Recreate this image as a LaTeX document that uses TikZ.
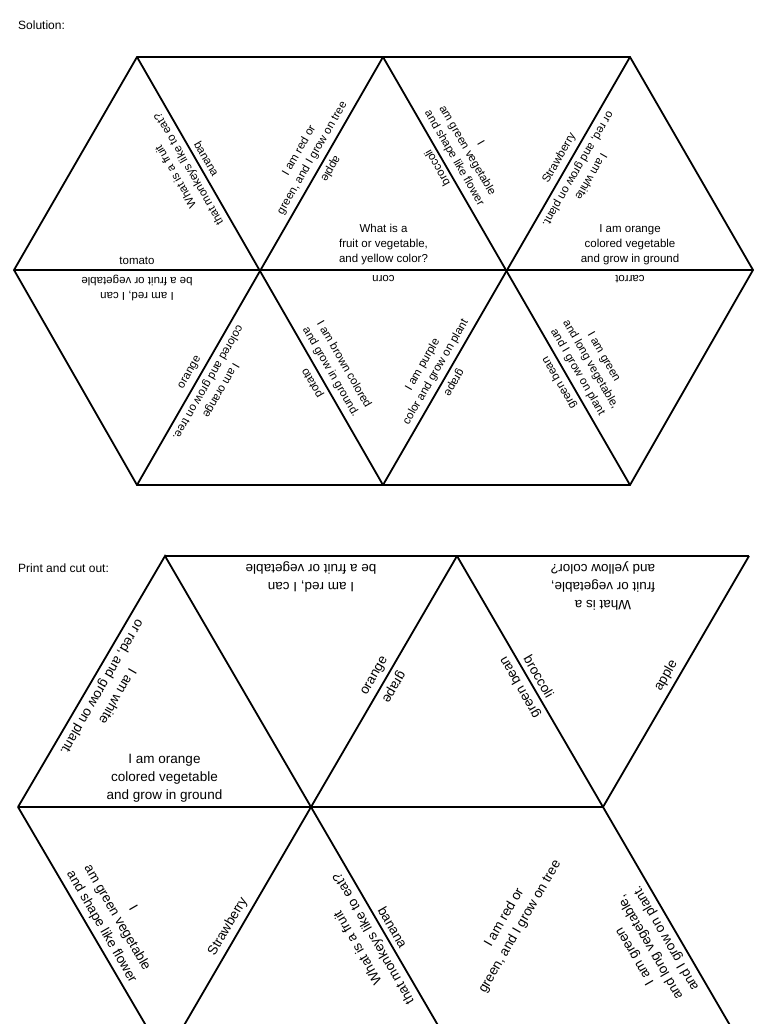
\documentclass[tikz,border=0pt]{standalone}
\usepackage{fontspec}
\setmainfont{Liberation Sans}
\usetikzlibrary{calc}
\tikzset{
  edgeline/.style={line width=1.8pt, line join=miter},
  lbl/.style={align=center, anchor=south, inner sep=1pt, font=\fontsize{11.5}{15}\selectfont},
  lblbig/.style={align=center, anchor=south, inner sep=1pt, font=\fontsize{13.5}{18}\selectfont},
  title/.style={anchor=west, inner sep=0pt, font=\fontsize{12}{14}\selectfont}
}
\newcommand{\tlab}[7]{\node[#7, rotate=#4] (#1) at ($($(#2)!0.5!(#3)$)!4pt!(#5)$) {#6};}
\begin{document}
\begin{tikzpicture}[x=1pt,y=-1pt]
\useasboundingbox (0,0) rectangle (768,1024);
\clip (0,0) rectangle (768,1024);
\node[title] (t1) at (18,25) {Solution:};
\node[title] (t2) at (18,568) {Print and cut out:};
% top hexagon
\coordinate (a1) at (137,57); \coordinate (a2) at (383,57); \coordinate (a3) at (630,57);
\coordinate (b0) at (14,270); \coordinate (b1) at (260,270); \coordinate (b2) at (507,270); \coordinate (b3) at (753,270);
\coordinate (c1) at (137,485); \coordinate (c2) at (383,485); \coordinate (c3) at (630,485);
\draw[edgeline] (a1)--(a3)--(b3)--(c3)--(c1)--(b0)--cycle;
\draw[edgeline] (b0)--(b3);
\draw[edgeline] (a1)--(c2); \draw[edgeline] (a2)--(c3);
\draw[edgeline] (a2)--(c1); \draw[edgeline] (a3)--(c2);
% bottom
\coordinate (p1) at (165,556); \coordinate (p2) at (457,556); \coordinate (p3) at (749,556);
\coordinate (q0) at (18,807); \coordinate (q1) at (311,807); \coordinate (q2) at (603,807);
\coordinate (r1) at (165,1058); \coordinate (r2) at (457,1058); \coordinate (r3) at (749,1058);
\draw[edgeline] (p1)--(p3); \draw[edgeline] (q0)--(q2);
\draw[edgeline] (q0)--(p1)--(r2); \draw[edgeline] (p2)--(r1);
\draw[edgeline] (p2)--(r3); \draw[edgeline] (p3)--(q2);
\draw[edgeline] (q0)--(r1);
% top labels
\tlab{l1}{b0}{b1}{0}{a1}{tomato}{lbl}
\tlab{l2}{b0}{b1}{180}{c1}{I am red, I can\\be a fruit or vegetable}{lbl}
\tlab{l3}{a1}{b1}{120}{b0}{What is a fruit\\that monkeys like to eat?}{lbl}
\tlab{l4}{a1}{b1}{-60}{a2}{banana}{lbl}
\tlab{l5}{a2}{b1}{60}{a1}{I am red or\\green, and I grow on tree}{lbl}
\tlab{l6}{a2}{b1}{-120}{b2}{apple}{lbl}
\tlab{l7}{a2}{b2}{120}{b1}{broccoli}{lbl}
\tlab{l8}{a2}{b2}{-60}{a3}{I\\am green vegetable\\and shape like flower}{lbl}
\tlab{l9}{a3}{b2}{60}{a2}{Strawberry}{lbl}
\tlab{l10}{a3}{b2}{-120}{b3}{I am white\\or red, and grow on plant.}{lbl}
\tlab{l11}{b2}{b3}{0}{a3}{I am orange\\colored vegetable\\and grow in ground}{lbl}
\tlab{l12}{b2}{b3}{180}{c3}{carrot}{lbl}
\tlab{l13}{b1}{b2}{0}{a2}{What is a\\fruit or vegetable,\\and yellow color?}{lbl}
\tlab{l14}{b1}{b2}{180}{c2}{corn}{lbl}
\tlab{l15}{b1}{c1}{60}{b0}{orange}{lbl}
\tlab{l16}{b1}{c1}{-120}{c2}{I am orange\\colored and grow on tree.}{lbl}
\tlab{l17}{b1}{c2}{120}{c1}{potato}{lbl}
\tlab{l18}{b1}{c2}{-60}{b2}{I am brown colored\\and grow in ground.}{lbl}
\tlab{l19}{b2}{c2}{60}{b1}{I am purple\\color and grow on plant}{lbl}
\tlab{l20}{b2}{c2}{-120}{c3}{grape}{lbl}
\tlab{l21}{b2}{c3}{120}{c2}{green bean}{lbl}
\tlab{l22}{b2}{c3}{-60}{b3}{I am green\\and long vegetable,\\and I grow on plant}{lbl}
% bottom labels
\tlab{m1}{q0}{p1}{-120}{q1}{I am white\\or red, and grow on plant.}{lblbig}
\tlab{m2}{q0}{q1}{0}{p1}{I am orange\\colored vegetable\\and grow in ground}{lblbig}
\tlab{m3}{p1}{p2}{180}{q1}{I am red, I can\\be a fruit or vegetable}{lblbig}
\tlab{m4}{p2}{q1}{60}{p1}{orange}{lblbig}
\tlab{m5}{p2}{q1}{-120}{q2}{grape}{lblbig}
\tlab{m6}{p2}{q2}{120}{q1}{green bean}{lblbig}
\tlab{m7}{p2}{q2}{-60}{p3}{broccoli}{lblbig}
\tlab{m8}{p2}{p3}{180}{q2}{What is a\\fruit or vegetable,\\and yellow color?}{lblbig}
\tlab{m9}{p3}{q2}{60}{p2}{apple}{lblbig}
\tlab{m10}{q0}{r1}{-60}{q1}{I\\am green vegetable\\and shape like flower}{lblbig}
\tlab{m11}{q1}{r1}{60}{q0}{Strawberry}{lblbig}
\tlab{m12}{q1}{r2}{120}{r1}{What is a fruit\\that monkeys like to eat?}{lblbig}
\tlab{m13}{q1}{r2}{-60}{q2}{banana}{lblbig}
\tlab{m14}{q2}{r2}{60}{q1}{I am red or\\green, and I grow on tree}{lblbig}
\tlab{m15}{q2}{r3}{120}{r2}{I am green\\and long vegetable,\\and I grow on plant.}{lblbig}
\end{tikzpicture}
\end{document}
